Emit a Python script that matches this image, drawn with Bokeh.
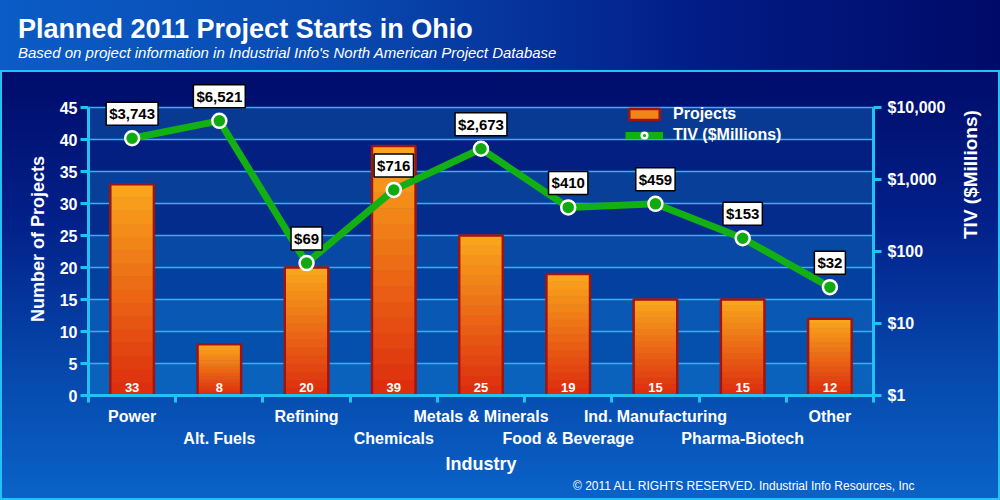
import numpy as np
from bokeh.plotting import figure
from bokeh.core.properties import value
from bokeh.models import (Range1d, LinearAxis, LogAxis, LogScale, FixedTicker,
                          NumeralTickFormatter, BoxAnnotation, Label, LabelSet, ColumnDataSource,
                          Legend, LegendItem, Div, Title)
from bokeh.layouts import column
from bokeh.embed import file_html
from bokeh.resources import INLINE

# ---------------- data ----------------
title_text = "Planned 2011 Project Starts in Ohio"
subtitle_text = "Based on project information in Industrial Info's North American Project Database"
copyright_text = "\u00a9 2011 ALL RIGHTS RESERVED. Industrial Info Resources, Inc"
categories = ["Power", "Alt. Fuels", "Refining", "Chemicals", "Metals & Minerals",
              "Food & Beverage", "Ind. Manufacturing", "Pharma-Biotech", "Other"]
projects = [33, 8, 20, 39, 25, 19, 15, 15, 12]
tiv = [3743, 6521, 69, 716, 2673, 410, 459, 153, 32]
left_ticks = [0, 5, 10, 15, 20, 25, 30, 35, 40, 45]
right_ticks = [1, 10, 100, 1000, 10000]

# ---------------- style / layout ----------------
FONT = "Liberation Sans"
CYAN = "#22c3f3"
WHITE = "#ffffff"
band_colors = ["#0a62bd", "#0550ac", "#0958b3", "#0440a0", "#0849a5",
               "#042c8d", "#073f99", "#021f81", "#083a94"]
AXIS_PX = 288      # pixel height of the drawn axes (0..45)
FRAME_PX = 313     # frame height incl. headroom for the value boxes
ext = FRAME_PX / AXIS_PX

n = len(categories)
xpos = [i + 0.5 for i in range(n)]          # category centres on the numeric x scale
bounds = list(range(n + 1))                  # category boundaries

title_div = Div(
    text=('<div style="padding:14px 0 0 18px;font-family:\'Liberation Sans\',Arial,sans-serif;color:#ffffff;">'
          f'<div style="font-size:27px;font-weight:bold;line-height:30px;white-space:nowrap;">{title_text}</div>'
          f'<div style="font-size:15px;font-style:italic;line-height:18px;white-space:nowrap;">{subtitle_text}</div>'
          '</div>'),
    width=1000, height=70, margin=0,
    styles={"background": "linear-gradient(to right, #0b5cc6 0%, #0849b0 35%, #021c86 70%, #000a68 100%)"})

y_top = left_ticks[-1] * ext
p = figure(x_range=Range1d(0, n), y_range=Range1d(0, y_top),
           width=1000, height=430, output_backend="svg", toolbar_location=None,
           x_axis_location=None,
           min_border_left=88, min_border_right=127, min_border_top=430 - 105 - FRAME_PX,
           min_border_bottom=105,
           border_fill_alpha=0, background_fill_alpha=0, outline_line_color=None)
p.styles = {"background": "linear-gradient(to bottom, #000c6a 0%, #022089 35%, #0648ac 70%, #0a63c8 100%)",
            "box-shadow": "inset 0 0 0 2px #22c3f3"}

# bands
for i in range(len(left_ticks) - 1):
    p.add_layout(BoxAnnotation(bottom=left_ticks[i], top=left_ticks[i + 1], fill_color=band_colors[i],
                               fill_alpha=1, line_color=None, level="image"))

p.xgrid.visible = False
p.ygrid.grid_line_color = "#3aaef0"
p.ygrid.grid_line_width = 1.5

# left axis
ya = p.yaxis[0]
ya.ticker = FixedTicker(ticks=left_ticks)
ya.bounds = (left_ticks[0], left_ticks[-1])
ya.axis_label = "Number of Projects"

# right axis (log)
log_top = 10 ** (np.log10(right_ticks[-1]) * ext)
p.extra_y_ranges = {"tiv": Range1d(right_ticks[0], log_top)}
p.extra_y_scales = {"tiv": LogScale()}
ra = LogAxis(y_range_name="tiv", ticker=FixedTicker(ticks=right_ticks),
             formatter=NumeralTickFormatter(format="$0,0"), axis_label="TIV ($Millions)")
ra.bounds = (right_ticks[0], right_ticks[-1])
p.add_layout(ra, "right")
try:
    ra.axis_label_orientation = np.pi / 2
except Exception:
    pass

for ax, std, lstd, lsize in ((ya, 3, 9, "18px"), (ra, 6, 22, "19px")):
    ax.axis_line_color = CYAN
    ax.axis_line_width = 3
    ax.major_tick_line_color = CYAN
    ax.major_tick_line_width = 3
    ax.major_tick_out = 8
    ax.major_tick_in = 0
    ax.minor_tick_line_color = None
    ax.major_label_text_color = WHITE
    ax.major_label_text_font = FONT
    ax.major_label_text_font_style = "bold"
    ax.major_label_text_font_size = "16px"
    ax.major_label_standoff = std
    ax.axis_label_text_color = WHITE
    ax.axis_label_text_font = FONT
    ax.axis_label_text_font_style = "bold"
    ax.axis_label_text_font_size = lsize
    ax.axis_label_standoff = lstd

# bottom axis: boundary ticks (minor) + staggered category labels
cat_axis = LinearAxis(ticker=FixedTicker(ticks=xpos, minor_ticks=bounds))
cat_axis.axis_line_color = CYAN
cat_axis.axis_line_width = 3
cat_axis.major_tick_line_color = None
cat_axis.major_tick_out = 0
cat_axis.major_tick_in = 0
cat_axis.minor_tick_line_color = CYAN
cat_axis.minor_tick_line_width = 3
cat_axis.minor_tick_out = 7
cat_axis.minor_tick_in = 0
cat_axis.major_label_overrides = {x: (c if i % 2 == 0 else "\n" + c)
                                  for i, (x, c) in enumerate(zip(xpos, categories))}
cat_axis.major_label_text_color = WHITE
cat_axis.major_label_text_font = FONT
cat_axis.major_label_text_font_style = "bold"
cat_axis.major_label_text_font_size = "16px"
cat_axis.major_label_text_line_height = 1.3
cat_axis.major_label_standoff = 5
cat_axis.axis_label = "Industry"
cat_axis.axis_label_text_color = WHITE
cat_axis.axis_label_text_font = FONT
cat_axis.axis_label_text_font_style = "bold"
cat_axis.axis_label_text_font_size = "18px"
cat_axis.axis_label_standoff = 4
p.add_layout(cat_axis, "below")

copy_title = Title(text=copyright_text, align="right", offset=-42, text_color=WHITE,
                   text_font=FONT, text_font_size="12px", text_font_style="normal")
try:
    copy_title.standoff = 0
except Exception:
    pass
p.add_layout(copy_title, "below")

# bars with vertical gradient (stacked slices of each bar)
vals = np.array(projects, dtype=float)
c_bot = np.array([0xdc, 0x2a, 0x0e])
c_top = np.array([0xfb, 0xa8, 0x1c])
K = 16
slices = []
for k in range(K):
    t = (k + 0.5) / K
    rgb = (c_bot + (c_top - c_bot) * t).round().astype(int)
    col = "#%02x%02x%02x" % tuple(rgb)
    r = p.vbar(x=xpos, bottom=vals * k / K, top=vals * (k + 1) / K, width=0.5,
               fill_color=col, line_color=col, line_width=0.6)
    slices.append(r)
outline = p.vbar(x=xpos, top=projects, width=0.5, fill_alpha=0,
                 line_color="#a01410", line_width=2.5)

bar_src = ColumnDataSource(dict(x=xpos, txt=[str(v) for v in projects]))
p.add_layout(LabelSet(x="x", y=0, text="txt", source=bar_src, y_offset=4,
                      text_align="center", text_baseline="bottom", text_color=WHITE,
                      text_font=value(FONT), text_font_style="bold", text_font_size="13px"))

# TIV line
line = p.line(xpos, tiv, y_range_name="tiv", line_color="#13b013", line_width=7, line_join="round")
pts = p.scatter(xpos, tiv, y_range_name="tiv", size=14, fill_color="#10aa10",
                line_color=WHITE, line_width=2.5)

for x, v in zip(xpos, tiv):
    p.add_layout(Label(x=x, y=v, y_range_name="tiv",
                       text="${:,}".format(v), y_offset=13, text_align="center", text_baseline="bottom",
                       text_color="black", text_font=FONT, text_font_style="bold", text_font_size="15px",
                       background_fill_color=WHITE, border_line_color="black", border_line_width=1.5,
                       padding=3))

legend = Legend(items=[LegendItem(label="Projects", renderers=[slices[11], outline]),
                       LegendItem(label="TIV ($Millions)", renderers=[line, pts])],
                location=(537, 251), orientation="vertical",
                background_fill_alpha=0, border_line_color=None,
                label_text_color=WHITE, label_text_font=FONT, label_text_font_style="bold",
                label_text_font_size="16px", glyph_width=38, glyph_height=14, label_height=17,
                label_standoff=10, spacing=3, padding=0, margin=0)
p.add_layout(legend)

layout = column(title_div, p, spacing=0)
open("out.html", "w").write(file_html(layout, INLINE))
